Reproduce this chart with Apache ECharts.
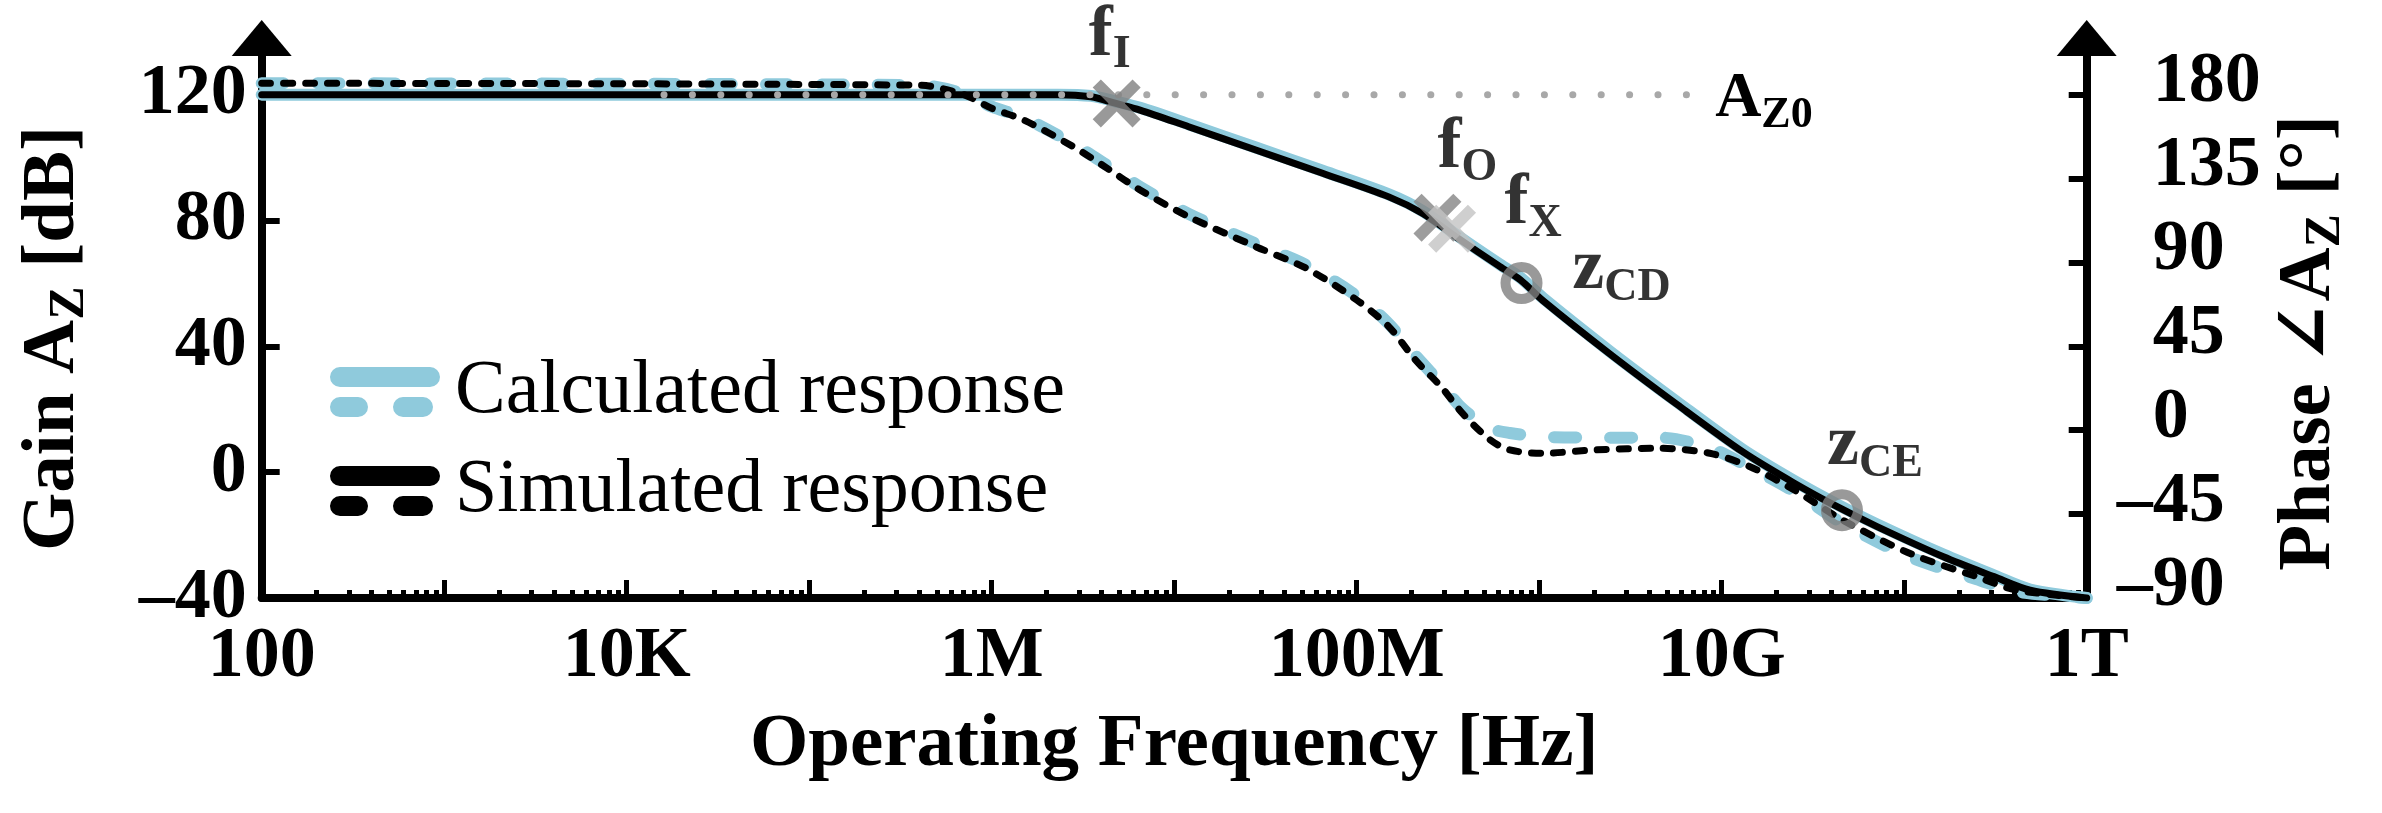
<!DOCTYPE html>
<html>
<head>
<meta charset="utf-8">
<script src="https://cdn.jsdelivr.net/npm/echarts@6/dist/echarts.min.js"></script>
<style>
  html, body { margin: 0; padding: 0; background: #fff; }
  #chart { width: 2382px; height: 813px; }
</style>
</head>
<body>
<div id="chart"></div>
<script>
// ---------- data ----------
// gain curves (left axis, dB)
var gainFreq = [1e2, 1e5, 1e6, 2.3e6, 3.5e6, 4.8e6, 6.5e6, 1.2e7, 2.8e7, 6.5e7, 1.5e8, 2.3e8, 3.5e8, 6.1e8,
  7.9e8, 1.05e9, 2.45e9, 5.7e9, 1.3e10, 2.5e10, 4.4e10, 7.1e10, 1.64e11, 3.1e11, 4.9e11, 1e12];
var simGain = [120, 120, 120, 120, 119.3, 117.2, 115.1, 109.8, 102.4, 95.0, 87.5, 82.2, 74.8, 65.3,
  61.1, 54.5, 37.5, 21.5, 6.5, -3.5, -11.3, -17.3, -26.9, -33.2, -37.5, -40];
var calcGain = [120, 120, 120, 120, 119.6, 117.8, 115.8, 110.6, 103.2, 95.8, 88.3, 83.0, 75.5, 66.0,
  61.8, 55.3, 38.3, 22.3, 7.2, -2.8, -10.6, -16.6, -26.2, -32.8, -37.3, -40];

// phase curves (right axis, degrees)
var phaseFreq = [1e2, 4e5, 7e5, 1e6, 1.5e6, 2.8e6, 4.3e6, 6.5e6, 1.2e7, 2.8e7, 5.3e7, 1e8, 1.5e8, 2.1e8,
  2.9e8, 3.8e8, 5.4e8, 6.9e8, 1.05e9, 2e9, 4.6e9, 8.6e9, 1.43e10, 2.5e10, 4.6e10, 1.07e11, 2.5e11, 4.1e11, 1e12];
var simPhase = [186, 185, 180, 172.6, 166.3, 152, 140.4, 128.8, 114.5, 98.4, 86.8, 69.8, 55.5, 37.6,
  23.3, 9.0, -5.3, -10.6, -12.4, -10.6, -9.7, -12.4, -19.6, -32.1, -48.2, -66.0, -78.6, -85.7, -90];
var calcPhase = [186, 185, 180.5, 173.5, 167.5, 153.5, 142, 130.5, 116, 100, 88.5, 72, 57, 40,
  25, 11.5, 1, -1.5, -3.5, -4, -4, -9.5, -20, -33, -50, -68, -80, -86.5, -90];

// reference level A_Z0
var azFreq = [1.6e4, 6.8e9];
var azGain = [120, 120];

// marked points
var markerMain = ['f', 'f', 'f', 'z', 'z'];
var markerSub = ['I', 'O', 'X', 'CD', 'CE'];
var markerFreq = [4.84e6, 2.77e8, 3.33e8, 8.0e8, 4.56e10];
var markerGain = [117.2, 80.9, 77.4, 60.1, -12.1];

// axis ticks and labels
var freqLabelExp = [2, 4, 6, 8, 10, 12];
var freqLabels = ['100', '10K', '1M', '100M', '10G', '1T'];
var decadeExp = [2, 3, 4, 5, 6, 7, 8, 9, 10, 11, 12];
var minorMult = [2, 3, 4, 5, 6, 7, 8, 9];
var gainTicks = [-40, 0, 40, 80, 120];
var phaseTicks = [-90, -45, 0, 45, 90, 135, 180];

// ---------- styling ----------
var FONT = "'Liberation Serif', 'DejaVu Serif', serif";
var BLUE = '#8fcadc';
var crossPath = 'path://M0 17L17 0L50 33L83 0L100 17L67 50L100 83L83 100L50 67L17 100L0 83L33 50Z';
var legendIcon = 'path://M10 0H100A10 10 0 0 1 100 20H10A10 10 0 0 1 10 0Z' +
  'M10 30H28A10 10 0 0 1 28 50H10A10 10 0 0 1 10 30Z' +
  'M73 30H93A10 10 0 0 1 93 50H73A10 10 0 0 1 73 30Z';

var markerStyles = [
  { symbol: crossPath, symbolSize: 48, itemStyle: { color: '#7f7f7f' } },
  { symbol: crossPath, symbolSize: 48, itemStyle: { color: '#858585' } },
  { symbol: crossPath, symbolSize: 48, itemStyle: { color: '#c3c3c3' } },
  { symbol: 'circle', symbolSize: 32, itemStyle: { color: 'rgba(0,0,0,0)', borderColor: '#808080', borderWidth: 10 } },
  { symbol: 'circle', symbolSize: 32, itemStyle: { color: 'rgba(0,0,0,0)', borderColor: '#808080', borderWidth: 10 } }
];
var markerLabelOffset = [[-7, -67], [30, -69], [81, -24], [100, -14], [33, -65]];

function zip(xs, ys) {
  return xs.map(function (x, i) { return [x, ys[i]]; });
}
function minusFmt(v) {
  return v < 0 ? '\u2013' + (-v) : String(v);
}

var minorExp = [];
decadeExp.slice(0, -1).forEach(function (d) {
  minorMult.forEach(function (m) { minorExp.push(d + Math.log10(m)); });
});

var subRich = function (main, sub, pad) {
  return {
    m: { fontSize: main, lineHeight: main, fontWeight: 'bold', fontFamily: FONT, color: '#000', verticalAlign: 'top' },
    s: { fontSize: sub, lineHeight: sub, fontWeight: 'bold', fontFamily: FONT, color: '#000', verticalAlign: 'top', padding: [pad, 0, 0, 0] }
  };
};

var chart = echarts.init(document.getElementById('chart'));

var markerData = markerFreq.map(function (f, i) {
  var st = markerStyles[i];
  return {
    value: [f, markerGain[i]],
    symbol: st.symbol,
    symbolSize: st.symbolSize,
    itemStyle: st.itemStyle,
    label: {
      show: true,
      position: 'inside',
      offset: markerLabelOffset[i],
      formatter: '{m|' + markerMain[i] + '}{s|' + markerSub[i] + '}',
      rich: subRich(72, 46, 32)
    }
  };
});

var option = {
  animation: false,
  backgroundColor: '#fff',
  grid: { left: 261.7, right: 295.3, top: 38, bottom: 215, containLabel: false },
  legend: {
    orient: 'vertical',
    left: 325,
    top: 349,
    itemWidth: 110,
    itemHeight: 50,
    itemGap: 23,
    selectedMode: false,
    itemStyle: { borderWidth: 0 },
    textStyle: { fontSize: 76, fontFamily: FONT, color: '#000', padding: [0, 0, 0, 10] },
    data: [
      { name: 'Calculated response', icon: legendIcon, itemStyle: { color: BLUE } },
      { name: 'Simulated response', icon: legendIcon, itemStyle: { color: '#000' } }
    ]
  },
  xAxis: [
    {
      // data axis
      type: 'log', logBase: 10, min: 1e2, max: 1e12, show: false,
      axisLine: { onZero: false }
    },
    {
      // decades, labels and axis line
      type: 'value', min: 2, max: 12, position: 'bottom',
      axisLine: { show: true, onZero: false, lineStyle: { color: '#000', width: 8 } },
      axisTick: { show: true, inside: true, length: 18, lineStyle: { color: '#000', width: 5 }, customValues: decadeExp },
      axisLabel: {
        customValues: freqLabelExp,
        margin: 23,
        fontSize: 72, fontWeight: 'bold', fontFamily: FONT, color: '#000',
        formatter: function (v) { return freqLabels[freqLabelExp.indexOf(Math.round(v))]; }
      },
      splitLine: { show: false },
      name: 'Operating Frequency [Hz]',
      nameLocation: 'middle',
      nameGap: 110,
      nameTextStyle: { fontSize: 75, fontWeight: 'bold', fontFamily: FONT, color: '#000' }
    },
    {
      // minor log ticks
      type: 'value', min: 2, max: 12, position: 'bottom',
      axisLine: { show: false, onZero: false },
      axisTick: { show: true, inside: true, length: 8, lineStyle: { color: '#000', width: 5 }, customValues: minorExp },
      axisLabel: { show: false },
      splitLine: { show: false }
    }
  ],
  yAxis: [
    {
      type: 'value', position: 'left', min: -40, max: 138,
      axisLine: { show: true, onZero: false, symbol: ['none', 'triangle'], symbolSize: [60, 36], lineStyle: { color: '#000', width: 8 } },
      axisTick: { show: true, inside: true, length: 18, lineStyle: { color: '#000', width: 6 }, customValues: gainTicks },
      axisLabel: {
        customValues: gainTicks, margin: 15,
        fontSize: 72, fontWeight: 'bold', fontFamily: FONT, color: '#000',
        formatter: minusFmt
      },
      splitLine: { show: false },
      name: '{m|Gain A}{s|Z}{m| [dB]}',
      nameLocation: 'middle',
      nameRotate: 90,
      nameGap: 171,
      nameTextStyle: { padding: [0, 41, 0, 0], rich: subRich(75, 50, 29) }
    },
    {
      type: 'value', position: 'right', min: -90, max: 210.3,
      axisLine: { show: true, onZero: false, symbol: ['none', 'triangle'], symbolSize: [60, 36], lineStyle: { color: '#000', width: 8 } },
      axisTick: { show: true, inside: true, length: 18, lineStyle: { color: '#000', width: 6 }, customValues: phaseTicks },
      axisLabel: {
        customValues: phaseTicks, margin: 30, padding: [0, 0, 24, 0],
        fontSize: 72, fontWeight: 'bold', fontFamily: FONT, color: '#000',
        formatter: function (v) { return v < 0 ? '\u2013' + (-v) : '{h|\u2013}' + v; },
        rich: { h: { fontSize: 72, fontWeight: 'bold', fontFamily: FONT, color: 'rgba(0,0,0,0)' } }
      },
      splitLine: { show: false },
      name: '{m|Phase \u2220A}{s|Z}{m| [\u00b0]}',
      nameLocation: 'middle',
      nameRotate: 90,
      nameGap: 185,
      nameTextStyle: { padding: [0, 50, 0, 0], rich: subRich(75, 50, 29) }
    }
  ],
  series: [
    {
      name: 'Calculated response', type: 'line', xAxisIndex: 0, yAxisIndex: 0,
      data: zip(gainFreq, calcGain), symbol: 'none', smooth: 0.3, z: 2,
      itemStyle: { color: BLUE },
      lineStyle: { color: BLUE, width: 12, cap: 'round', join: 'round' }
    },
    {
      name: 'Calculated response', type: 'line', xAxisIndex: 0, yAxisIndex: 1,
      data: zip(phaseFreq, calcPhase), symbol: 'none', smooth: 0.3, z: 2,
      itemStyle: { color: BLUE },
      lineStyle: { color: BLUE, width: 12, type: [22, 34], cap: 'round', join: 'round' }
    },
    {
      name: 'Simulated response', type: 'line', xAxisIndex: 0, yAxisIndex: 0,
      data: zip(gainFreq, simGain), symbol: 'none', smooth: 0.3, z: 3,
      itemStyle: { color: '#000' },
      lineStyle: { color: '#000', width: 7, cap: 'round', join: 'round' }
    },
    {
      name: 'Simulated response', type: 'line', xAxisIndex: 0, yAxisIndex: 1,
      data: zip(phaseFreq, simPhase), symbol: 'none', smooth: 0.3, z: 3,
      itemStyle: { color: '#000' },
      lineStyle: { color: '#000', width: 7, type: [9, 13], cap: 'round', join: 'round' }
    },
    {
      name: 'AZ0', type: 'line', xAxisIndex: 0, yAxisIndex: 0,
      data: zip(azFreq, azGain), symbol: 'none', z: 4,
      lineStyle: { color: '#a8a8a8', width: 7, type: [0.1, 28.3], cap: 'round' },
      endLabel: {
        show: true, distance: 24, offset: [0, 5],
        formatter: '{m|A}{s|Z0}',
        rich: subRich(64, 44, 26)
      }
    },
    {
      name: 'markers', type: 'scatter', xAxisIndex: 0, yAxisIndex: 0, z: 5,
      data: markerData
    }
  ]
};

chart.setOption(option);
</script>
</body>
</html>
